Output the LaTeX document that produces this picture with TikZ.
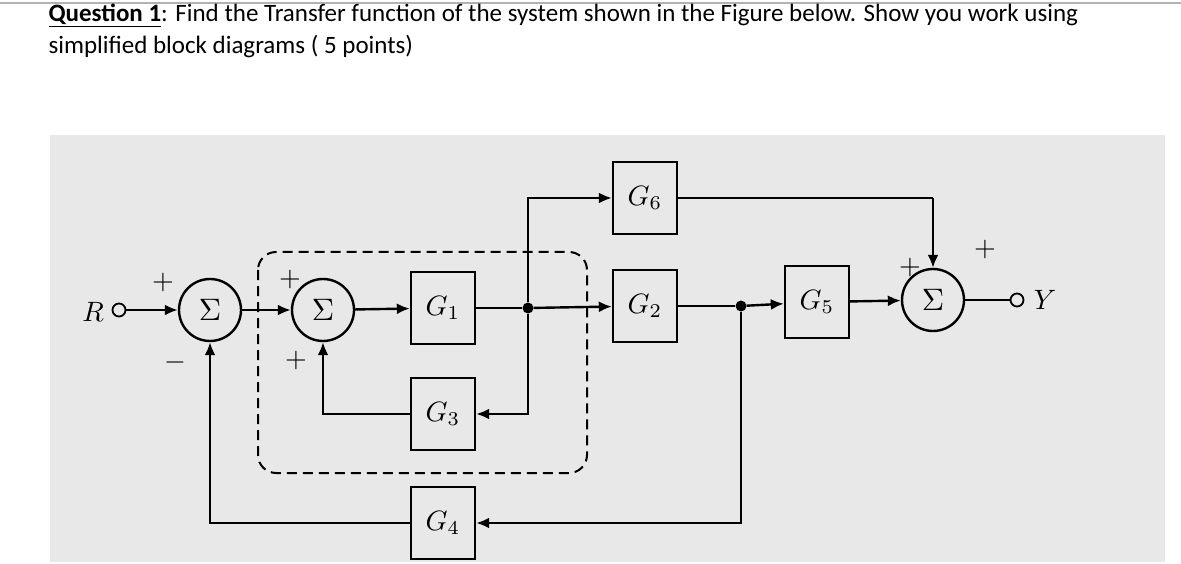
\documentclass[tikz,border=0pt]{standalone}
\usepackage{fontspec}
\newfontfamily\calib{Carlito}
\usetikzlibrary{arrows.meta}
\newcommand{\mb}[1]{\scalebox{2.8}{$#1$}}
\newcommand{\ms}[1]{\scalebox{3.1}{$#1$}}
\begin{document}
\begin{tikzpicture}[x=1pt,y=-1pt,
  blk/.style={draw,line width=2.4pt,minimum width=64pt,minimum height=72pt,inner sep=0pt},
  sm/.style={draw,circle,line width=2.4pt,minimum size=62pt,inner sep=0pt},
  port/.style={draw,circle,line width=1.8pt,minimum size=13pt,inner sep=0pt},
  dot/.style={circle,fill,minimum size=11pt,inner sep=0pt},
  wire/.style={line width=2.4pt},
  arr/.style={wire,-{Latex[length=13pt,width=11pt]}}]
\useasboundingbox (0,0) rectangle (1181,564);
\fill[white] (0,0) rectangle (1181,564);
\draw[gray!60,line width=1.5pt] (0,3) -- (1181,3);
\node[anchor=west,font=\calib\fontsize{25}{28}\selectfont] (t1) at (45,15) {\textbf{\underline{Question 1}}: Find the Transfer function of the system shown in the Figure below. Show you work using};
\node[anchor=west,font=\calib\fontsize{25}{28}\selectfont] (t2) at (45,47) {simplified block diagrams ( 5 points)};
\fill[black!9] (50,135) rectangle (1165,562);
% dashed region
\draw[line width=2pt,dash pattern=on 10pt off 6pt,rounded corners=18pt] (258,252) rectangle (587,473);
% nodes
\node (R) at (93,312) {\mb{R}};
\node[port] (rin) at (119,310) {};
\node[sm] (s1) at (210,310) {\ms{\Sigma}};
\node[sm] (s2) at (323,310) {\ms{\Sigma}};
\node[blk] (g1) at (443,308) {\mb{G_1}};
\node[blk] (g3) at (443,414) {\mb{G_3}};
\node[blk] (g4) at (443,523) {\mb{G_4}};
\node[blk] (g6) at (645,198) {\mb{G_6}};
\node[blk] (g2) at (645,306) {\mb{G_2}};
\node[blk] (g5) at (817,302) {\mb{G_5}};
\node[sm] (s3) at (933,300) {\ms{\Sigma}};
\node[port] (yout) at (1017,300) {};
\node (Y) at (1045,300) {\mb{Y}};
\node[dot] (b1) at (528,308) {};
\node[dot] (b2) at (741,306) {};
\coordinate (c6) at (933,198);
% signs
\node (p1) at (163,283) {\mb{+}};
\node (m1) at (175,362) {\mb{-}};
\node (p2) at (290,280) {\mb{+}};
\node (p3) at (296,360) {\mb{+}};
\node (p4) at (910,268) {\mb{+}};
\node (p5) at (985,250) {\mb{+}};
% wires
\draw[arr] (rin) -- (s1);
\draw[arr] (s1) -- (s2);
\draw[arr] (s2) -- (g1);
\draw[wire] (g1) -- (b1);
\draw[arr] (b1) -- (g2);
\draw[arr] (b1) |- (g6);
\draw[arr] (b1) |- (g3);
\draw[arr] (g3) -| (s2);
\draw[wire] (g2) -- (b2);
\draw[arr] (b2) -- (g5);
\draw[arr] (b2) |- (g4);
\draw[arr] (g4) -| (s1);
\draw[arr] (g5) -- (s3);
\draw[wire] (g6) -- (c6);
\draw[arr] (c6) -- (s3);
\draw[wire] (s3) -- (yout);
\end{tikzpicture}
\end{document}
